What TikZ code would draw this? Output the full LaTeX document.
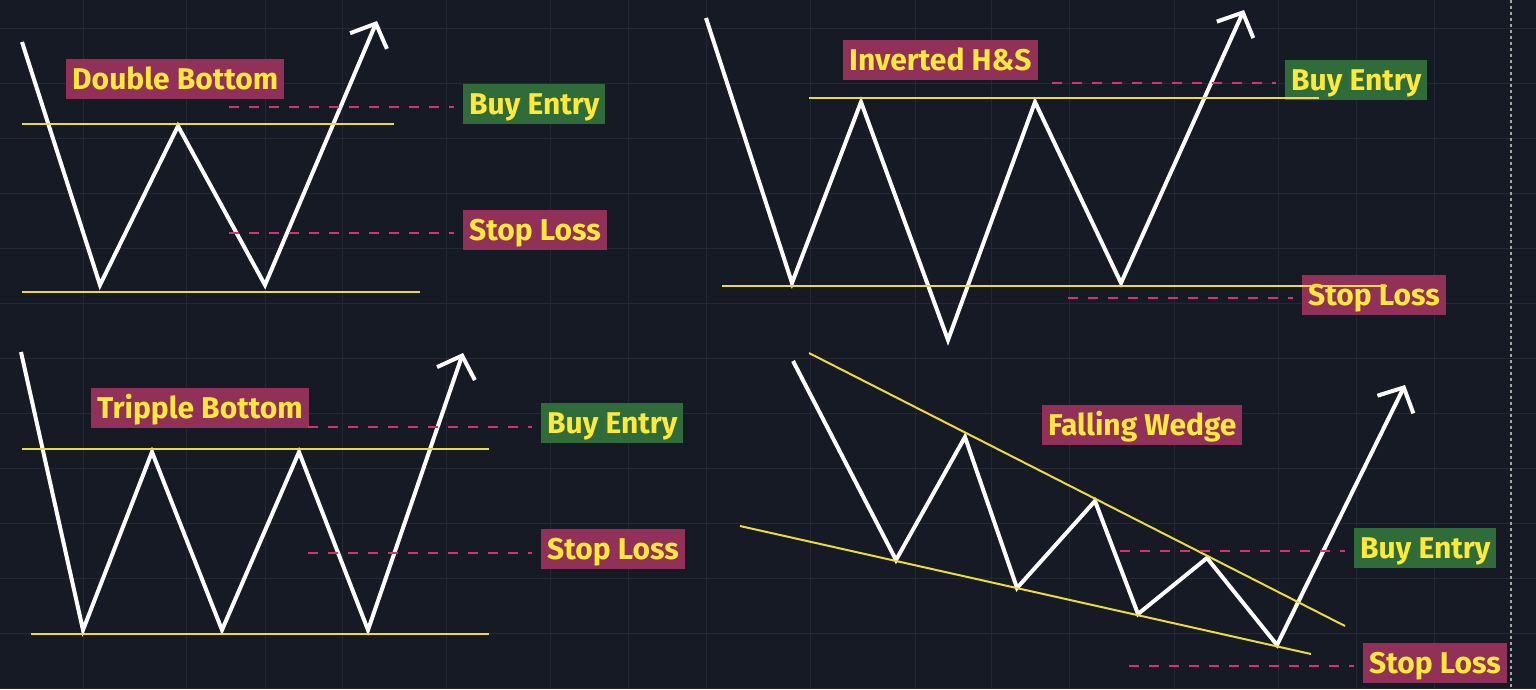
\documentclass[tikz,border=0pt]{standalone}
\usepackage{fontspec}
\setmainfont{Fira Sans}
\usetikzlibrary{arrows.meta}
\definecolor{bgcol}{RGB}{22,26,37}
\definecolor{gridcol}{RGB}{36,40,52}
\definecolor{tagmag}{RGB}{145,48,88}
\definecolor{taggrn}{RGB}{48,108,58}
\definecolor{txtyel}{RGB}{255,233,60}
\definecolor{lineyel}{RGB}{236,218,62}
\definecolor{dashpink}{RGB}{214,50,110}
\tikzstyle{gridline}=[draw=gridcol,line width=1pt]
\tikzstyle{tag}=[anchor=west,font=\fontsize{30}{30}\selectfont\bfseries,text=txtyel,inner xsep=6pt,inner ysep=0pt,minimum height=40pt,text height=21pt,text depth=1pt]
\tikzstyle{title}=[tag,fill=tagmag]
\tikzstyle{buybox}=[tag,fill=taggrn]
\tikzstyle{stopbox}=[tag,fill=tagmag]
\tikzstyle{price}=[draw=white,line width=4pt,line join=miter,-{Straight Barb[length=19pt,width=40pt]}]
\tikzstyle{level}=[draw=lineyel,line width=2pt]
\tikzstyle{target}=[draw=dashpink,line width=2.2pt,dash pattern=on 10pt off 10pt,shorten >=9pt]

\begin{document}
\begin{tikzpicture}[x=1pt,y=-1pt]

\fill[bgcol] (0,0) rectangle (1536,689);
\useasboundingbox (0,0) rectangle (1536,689);

% chart grid
\foreach \y in {28,83,...,688}
\draw[gridline] (0,\y) -- (1536,\y);
\foreach \x in {83,186,265,342,446,550,628,706,810,915,991,1069,1174,1278,1356,1434}
\draw[gridline] (\x,0) -- (\x,689);
\draw[draw=gray!70,line width=1.5pt,dash pattern=on 3pt off 3pt] (1511,0) -- (1511,689);

% labels
\node[title] (dbl) at (66,79) {Double Bottom};
\node[buybox] (buy1) at (463,104) {Buy Entry};
\node[stopbox] (stop1) at (463,230) {Stop Loss};

\node[title] (ihs) at (843,60) {Inverted H\&S};
\node[buybox] (buy2) at (1285,80) {Buy Entry};
\node[stopbox] (stop2) at (1302,295) {Stop Loss};

\node[title] (tpl) at (91,408) {Tripple Bottom};
\node[buybox] (buy3) at (541,423) {Buy Entry};
\node[stopbox] (stop3) at (541,549) {Stop Loss};

\node[title] (fwd) at (1042,425) {Falling Wedge};
\node[buybox] (buy4) at (1354,548) {Buy Entry};
\node[stopbox] (stop4) at (1363,663) {Stop Loss};

% price swings
\draw[price] (22,42) -- (100,285) -- (178,126) -- (265,285) -- (377,21);
\draw[price] (706,18) -- (792,283) -- (861,102) -- (948,340) -- (1035,102) -- (1121,283) -- (1244,10);
\draw[price] (21,352) -- (83,630) -- (152,452) -- (222,630) -- (299,452) -- (368,630) -- (463,353);
\draw[price] (793,361) -- (896,560) -- (965,437) -- (1017,588) -- (1095,501) -- (1138,614) -- (1207,558) -- (1277,645) -- (1405,385);

% support and resistance
\draw[level] (22,124) -- (394,124);
\draw[level] (22,292) -- (420,292);
\draw[level] (809,98) -- (1319,98);
\draw[level] (722,286) -- (1387,286);
\draw[level] (22,449) -- (489,449);
\draw[level] (31,634) -- (489,634);
\draw[level] (809,353) -- (1345,626);
\draw[level] (740,526) -- (1311,654);

% entry and stop levels
\foreach \start/\lbl in {{(229,107)/buy1}, {(229,233)/stop1}, {(1052,83)/buy2}, {(1068,298)/stop2}, {(308,427)/buy3}, {(308,553)/stop3}, {(1120,551)/buy4}, {(1129,666)/stop4}}
\draw[target] \start coordinate (s) -- (s -| \lbl.west);

\end{tikzpicture}
\end{document}
